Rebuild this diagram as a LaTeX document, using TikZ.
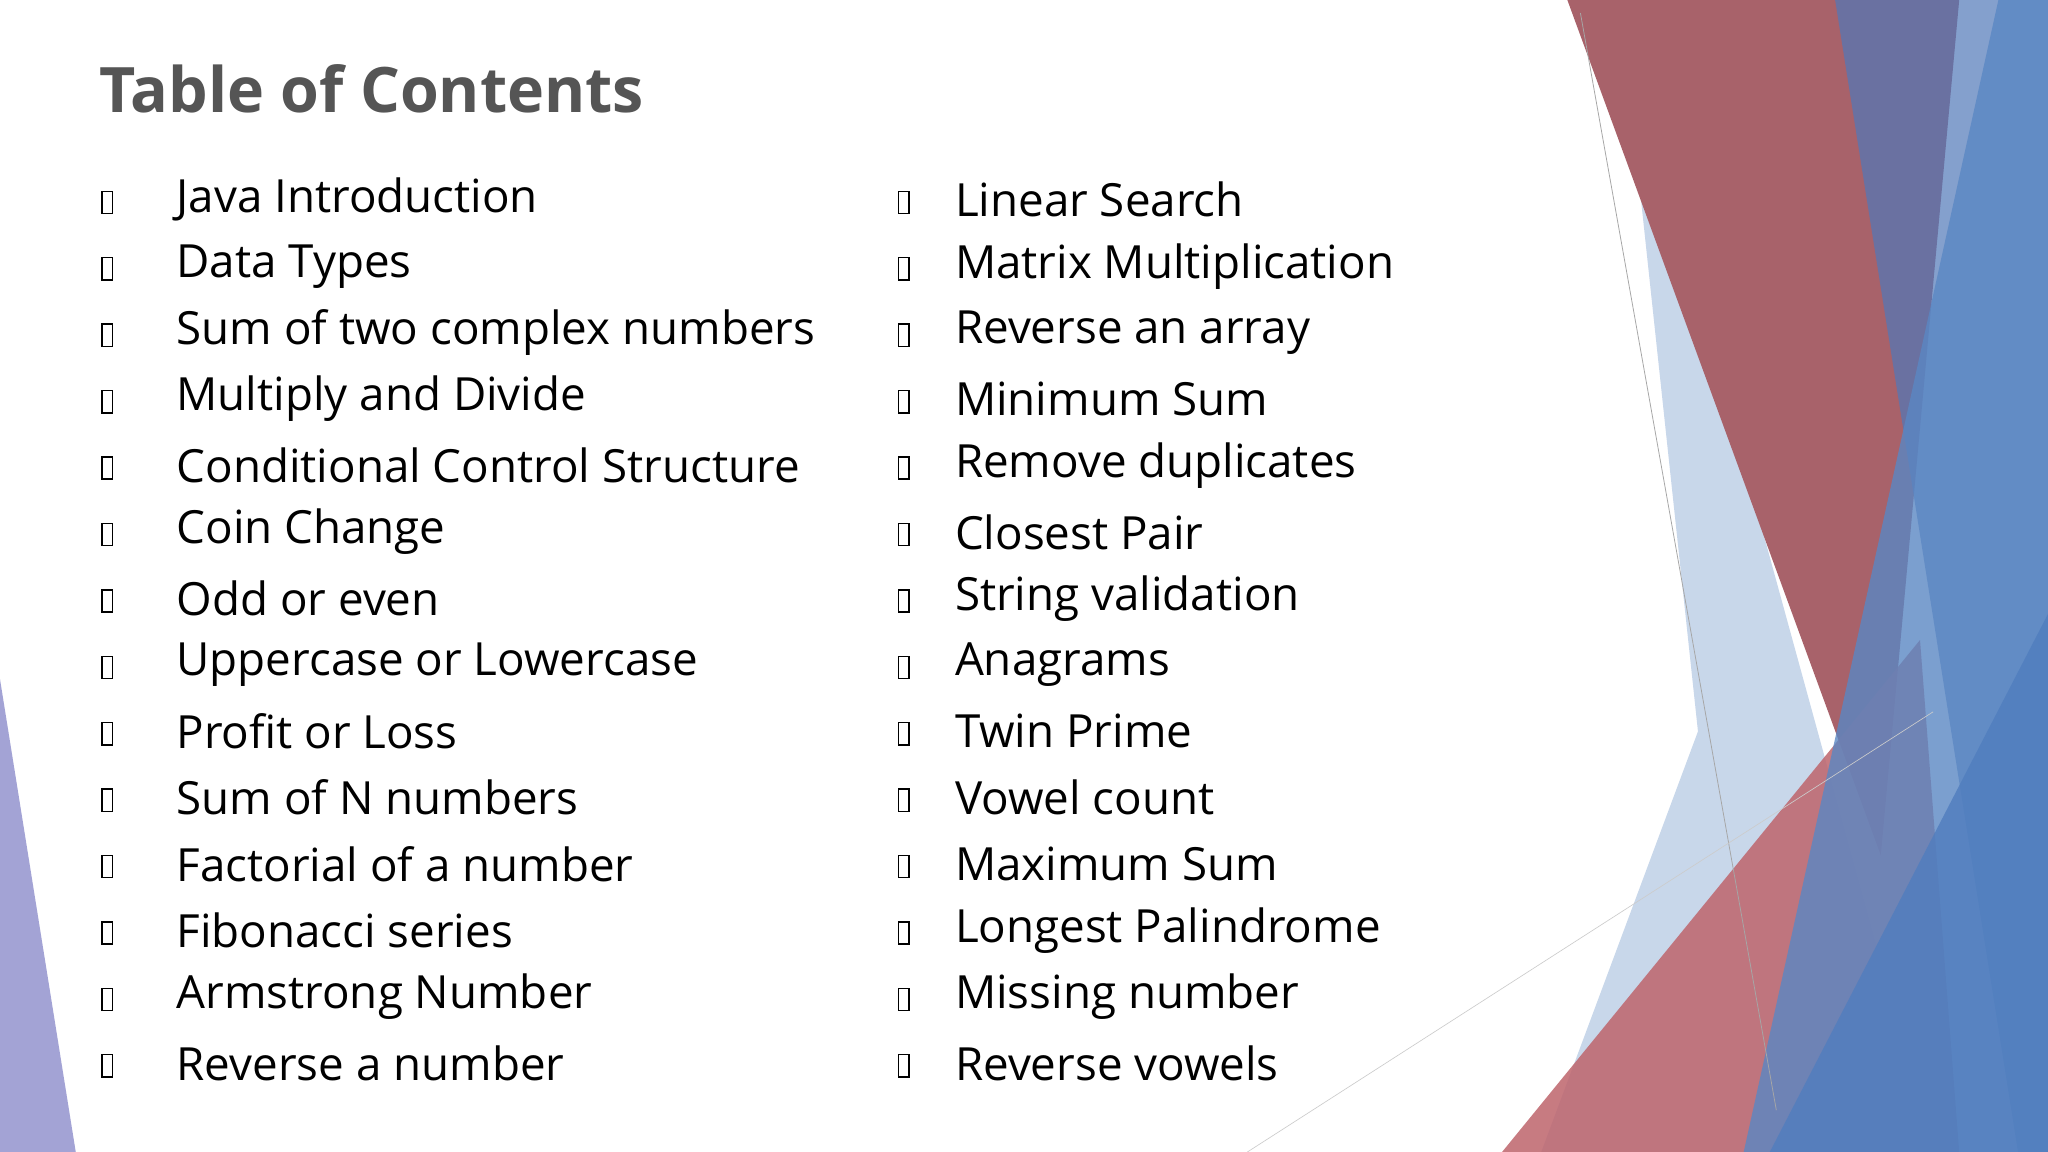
\documentclass[tikz,border=0pt]{standalone}
\usepackage{fontspec}
\setmainfont{Open Sans}
\begin{document}
\begin{tikzpicture}[x=1pt,y=-1pt,
  item/.style={anchor=west,inner sep=0pt,font=\fontsize{35}{40}\selectfont},
  bul/.style={draw=black,line width=1.1pt,minimum width=8pt,minimum height=17pt,inner sep=0pt}]
\useasboundingbox (0,0) rectangle (1568,882);
\fill[white] (0,0) rectangle (1568,882);
% decoration
\fill[fill=blue!45!gray!80!white,opacity=.8,fill=blue!55!black!45!white] (0,520) -- (0,882) -- (58,882) -- cycle;
\fill[fill={rgb,255:red,200;green,215;blue,234}] (1255,140) -- (1340,372) -- (1480,882) -- (1180,882) -- (1300,560) -- cycle;
\fill[fill={rgb,255:red,168;green,98;blue,106}] (1200,0) -- (1500,0) -- (1440,655) -- cycle;
\fill[fill={rgb,255:red,190;green,100;blue,108},opacity=.85] (1150,882) -- (1470,490) -- (1500,882) -- cycle;
\fill[fill={rgb,255:red,80;green,120;blue,185},opacity=.7] (1405,0) -- (1568,0) -- (1568,882) -- (1545,882) -- cycle;
\fill[fill={rgb,255:red,90;green,135;blue,195},opacity=.8] (1530,0) -- (1568,0) -- (1568,882) -- (1335,882) -- cycle;
\fill[fill={rgb,255:red,80;green,125;blue,190},opacity=.8] (1568,470) -- (1568,882) -- (1355,882) -- cycle;
\draw[gray!70,line width=.6pt] (1210,10) -- (1360,850);
\draw[gray!40,line width=.5pt] (955,882) -- (1480,545);
% title
\node[anchor=west,inner sep=0pt,text={rgb,255:red,85;green,85;blue,85},font=\fontsize{48}{54}\selectfont\bfseries] (title) at (76,68) {Table of Contents};
% items
\foreach \t [count=\i from 0] in {Java Introduction,Data Types,Sum of two complex numbers,Multiply and Divide,Conditional Control Structure,Coin Change,Odd or even,Uppercase or Lowercase,Profit or Loss,Sum of N numbers,Factorial of a number,Fibonacci series,Armstrong Number,Reverse a number}{
  \node[bul] (lb\i) at (82,{155+50.85*\i}) {};
  \node[item] (l\i) at (135,{153+50.85*\i}) {\t};
}
\foreach \t [count=\i from 0] in {Linear Search,Matrix Multiplication,Reverse an array,Minimum Sum,Remove duplicates,Closest Pair,String validation,Anagrams,Twin Prime,Vowel count,Maximum Sum,Longest Palindrome,Missing number,Reverse vowels}{
  \node[bul] (rb\i) at (692,{155+50.85*\i}) {};
  \node[item] (r\i) at (731,{153+50.85*\i}) {\t};
}
\end{tikzpicture}
\end{document}
